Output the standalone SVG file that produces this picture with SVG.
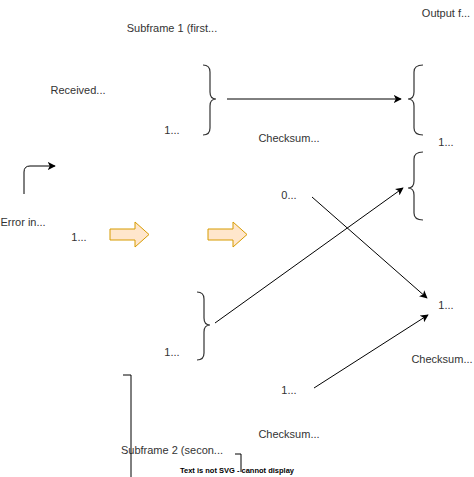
<svg xmlns="http://www.w3.org/2000/svg" width="474" height="477" viewBox="0 0 474 477">
<defs>
<style>
.t{font-family:"Liberation Sans",Arial,sans-serif;font-size:11px;fill:#333;text-anchor:middle}
.w{font-family:"Liberation Sans",Arial,sans-serif;font-size:7.5px;font-weight:bold;fill:#000;text-anchor:middle}
.br{fill:none;stroke:#333;stroke-width:1.2}
.c{fill:none;stroke:#000;stroke-width:1}
.ba{fill:#ffe6cc;stroke:#d79b00;stroke-width:1}
</style>
<marker id="ah" viewBox="0 0 10 10" refX="9" refY="5" markerWidth="8" markerHeight="8" markerUnits="userSpaceOnUse" orient="auto">
<path d="M0,0 L10,5 L0,10 L2.5,5 z" fill="#000"/>
</marker>
</defs>
<rect width="474" height="477" fill="#fff"/>

<g id="labels">
<text class="t" x="172" y="32">Subframe 1 (first...</text>
<text class="t" x="446" y="17">Output f...</text>
<text class="t" x="78" y="94">Received...</text>
<text class="t" x="172" y="134">1...</text>
<text class="t" x="289" y="142">Checksum...</text>
<text class="t" x="446" y="146">1...</text>
<text class="t" x="289" y="199">0...</text>
<text class="t" x="23" y="226">Error in...</text>
<text class="t" x="79" y="241">1...</text>
<text class="t" x="446" y="309">1...</text>
<text class="t" x="172" y="356">1...</text>
<text class="t" x="442" y="363">Checksum...</text>
<text class="t" x="289" y="394">1...</text>
<text class="t" x="289" y="438">Checksum...</text>
<text class="t" x="172" y="454">Subframe 2 (secon...</text>
<text class="w" x="237" y="473">Text is not SVG - cannot display</text>
</g>

<g id="brace-sub1">
<path class="br" d="M203,65 Q210,65 210,72 L210,92 Q210,99 216,99 Q210,99 210,106 L210,128 Q210,135 203,135"/>
</g>
<g id="brace-sub2">
<path class="br" d="M197,292 Q204,292 204,299 L204,318 Q204,325 210,325 Q204,325 204,332 L204,353 Q204,360 197,360"/>
</g>
<g id="brace-out1">
<path class="br" d="M423,65 Q414,65 414,72 L414,92 Q414,99 408,99 Q414,99 414,106 L414,128 Q414,135 423,135"/>
</g>
<g id="brace-out2">
<path class="br" d="M423,152 Q414,152 414,159 L414,181 Q414,188 408,188 Q414,188 414,195 L414,213 Q414,220 423,220"/>
</g>

<g id="block-arrow-1">
<path class="ba" d="M110,229 L135,229 L135,222 L149,234.5 L135,247 L135,240 L110,240 Z"/>
</g>
<g id="block-arrow-2">
<path class="ba" d="M208,229 L233,229 L233,222 L247,234.5 L233,247 L233,240 L208,240 Z"/>
</g>

<g id="bracket-bottom">
<path class="c" d="M123,375 L131,375 L131,477" stroke="#333"/>
<path class="c" d="M235,454 L241,454 L241,472" stroke="#333"/>
</g>

<g id="connectors">
<path class="c" d="M24,194 L24,172 Q24,166 30,166 L55,166" marker-end="url(#ah)"/>
<path class="c" d="M227,99 L401,99" marker-end="url(#ah)"/>
<path class="c" d="M215,323 L403,188" marker-end="url(#ah)"/>
<path class="c" d="M312,197 L427,298" marker-end="url(#ah)"/>
<path class="c" d="M314,388 L428,315" marker-end="url(#ah)"/>
</g>
</svg>
